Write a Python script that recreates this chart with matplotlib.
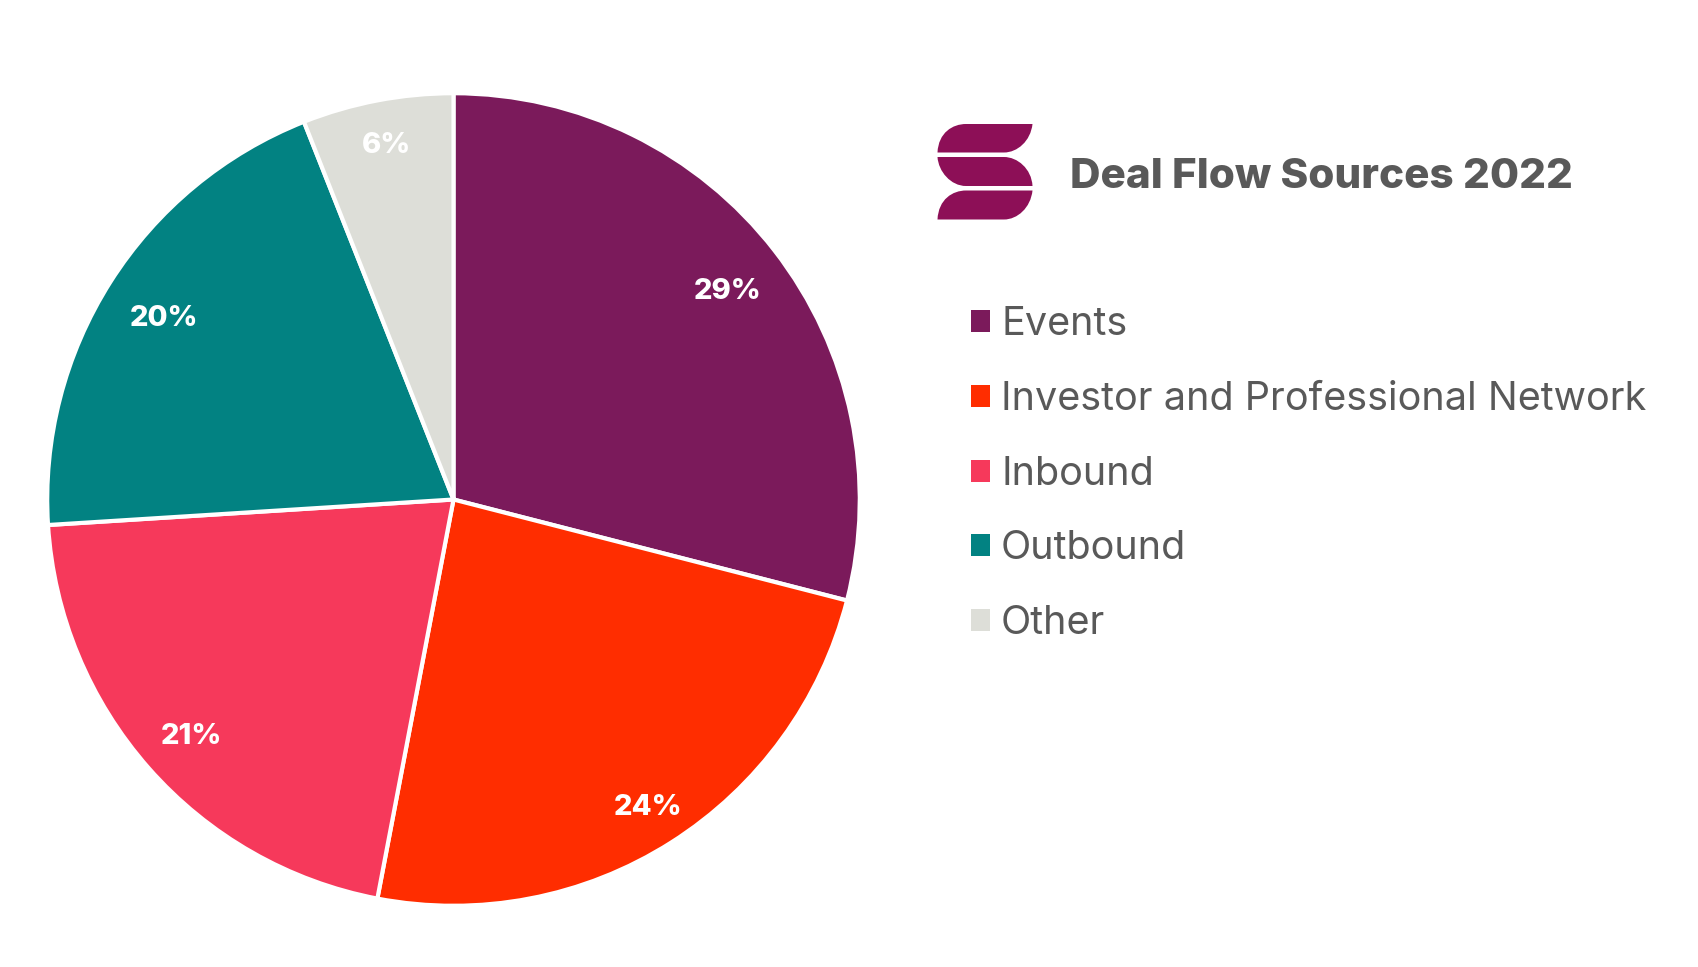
import numpy as np
import matplotlib
matplotlib.use('Agg')
import matplotlib.pyplot as plt
from matplotlib.patches import Patch, PathPatch
from matplotlib.path import Path

categories = ['Events', 'Investor and Professional Network', 'Inbound', 'Outbound', 'Other']
shares = [29, 24, 21, 20, 6]
colors = ['#7B1A5B', '#FF2D00', '#F6395B', '#028282', '#DDDED8']
title = 'Deal Flow Sources 2022'

# how far out each % label sits, as a share of the radius
label_radius = [0.85, 0.887, 0.867, 0.848, 0.897]

GREY = '#595959'
plt.rcParams['font.family'] = ['Inter', 'DejaVu Sans']

W, H = 1699, 967
fig = plt.figure(figsize=(W / 100, H / 100), dpi=100, facecolor='white')

# pie, placed in pixels
ax = fig.add_axes([46 / W, (H - 907) / H, 815 / W, 815 / H])
wedges, _ = ax.pie(shares, colors=colors, startangle=90, counterclock=False,
                   wedgeprops=dict(edgecolor='white', linewidth=3))
ax.set_xlim(-1.003, 1.003)
ax.set_ylim(-1.003, 1.003)

for w, val, r in zip(wedges, shares, label_radius):
    mid = np.radians((w.theta1 + w.theta2) / 2)
    ax.annotate(f'{val}%', (r * np.cos(mid), r * np.sin(mid)), xytext=(1.2, -2.6), textcoords='offset points',
                color='white', fontsize=21, fontweight='heavy', ha='center', va='center')

# overlay in pixel coords for the logo and title
over = fig.add_axes([0, 0, 1, 1], zorder=-1)
over.set_xlim(0, W)
over.set_ylim(H, 0)
over.axis('off')


def leaf(x0, y0, w, h, flip=False):
    # one slice of the logo, flip swaps which corners are rounded
    if not flip:
        verts = [(x0, y0 + h), (x0 + 0.01 * w, y0 + 0.3 * h), (x0 + 0.16 * w, y0), (x0 + 0.3 * w, y0),
                 (x0 + w, y0), (x0 + 0.98 * w, y0 + 0.6 * h), (x0 + 0.84 * w, y0 + h), (x0 + 0.7 * w, y0 + h),
                 (x0, y0 + h)]
    else:
        verts = [(x0, y0), (x0 + 0.7 * w, y0), (x0 + 0.84 * w, y0), (x0 + 0.99 * w, y0 + 0.4 * h), (x0 + w, y0 + h),
                 (x0 + 0.3 * w, y0 + h), (x0 + 0.14 * w, y0 + h), (x0 + 0.01 * w, y0 + 0.5 * h), (x0, y0)]
    if not flip:
        codes = [Path.MOVETO, Path.CURVE4, Path.CURVE4, Path.CURVE4, Path.LINETO,
                 Path.CURVE4, Path.CURVE4, Path.CURVE4, Path.CLOSEPOLY]
    else:
        codes = [Path.MOVETO, Path.LINETO, Path.CURVE4, Path.CURVE4, Path.CURVE4,
                 Path.LINETO, Path.CURVE4, Path.CURVE4, Path.CLOSEPOLY]
    return PathPatch(Path(verts, codes), facecolor='#8D0F57', edgecolor='none')


over.add_patch(leaf(937.5, 124, 95, 28.5))
over.add_patch(leaf(937.5, 157, 95, 29, flip=True))
over.add_patch(leaf(937.5, 190.5, 95, 29))

over.text(1070.5, 177, title, color=GREY, fontsize=30.4, fontweight='heavy', ha='left', va='center')

handles = [Patch(facecolor=c, edgecolor='none') for c in colors]
fig.legend(handles, categories, loc='upper left', bbox_to_anchor=(971 / W, 1 - 306 / H),
           bbox_transform=fig.transFigure, frameon=False, fontsize=28.5, labelcolor=GREY,
           handlelength=0.48, handleheight=0.48, handletextpad=0.28, labelspacing=0.955,
           borderpad=0, borderaxespad=0)

fig.savefig('out.png', dpi=100)
